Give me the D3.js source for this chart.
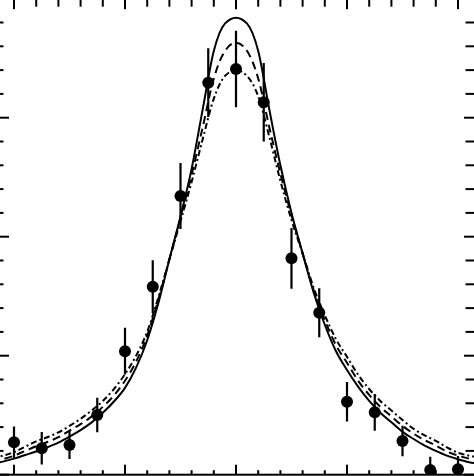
<!DOCTYPE html>
<html>
	<head>
		<meta charset="utf-8">
		<style type="text/css">
			body { margin: 0; background: #fff; }
			svg { display: block; }
		</style>
		<title>Peak fit</title>
	</head>
	<body>
		<script src="https://d3js.org/d3.v7.min.js"></script>
		<script>

/* measured points */
var pointX = [-2, -1.75, -1.5, -1.25, -1, -0.75, -0.5, -0.25, 0, 0.25, 0.5, 0.75, 1, 1.25, 1.5, 1.75, 2];
var pointY = [0.272, 0.222, 0.250, 0.502, 1.038, 1.580, 2.342, 3.294, 3.409, 3.129, 1.818, 1.361, 0.613, 0.524, 0.283, 0.039, 0.045];
var pointErr = [0.134, 0.137, 0.118, 0.145, 0.197, 0.223, 0.277, 0.289, 0.322, 0.330, 0.255, 0.206, 0.166, 0.155, 0.129, 0.112, 0.112];

var curveX = [-2.2, -2.1, -2.0, -1.9, -1.8, -1.7, -1.6, -1.5, -1.4, -1.3, -1.2, -1.1, -1.0, -0.9, -0.8, -0.7, -0.6, -0.5, -0.4, -0.3, -0.2, -0.1,
	0, 0.1, 0.2, 0.3, 0.4, 0.5, 0.6, 0.7, 0.8, 0.9, 1.0, 1.1, 1.2, 1.3, 1.4, 1.5, 1.6, 1.7, 1.8, 1.9, 2.0, 2.1, 2.2];
var solidY = [0.09, 0.11, 0.135, 0.165, 0.195, 0.23, 0.27, 0.32, 0.375, 0.44, 0.52, 0.615, 0.73, 0.90, 1.13, 1.44, 1.81, 2.17, 2.57, 3.07, 3.56, 3.79,
	3.84, 3.79, 3.56, 3.07, 2.60, 2.20, 1.86, 1.53, 1.26, 1.04, 0.88, 0.74, 0.62, 0.52, 0.44, 0.36, 0.30, 0.245, 0.20, 0.16, 0.13, 0.105, 0.09];
var dashedY = [0.11, 0.13, 0.16, 0.20, 0.24, 0.275, 0.315, 0.37, 0.425, 0.49, 0.57, 0.665, 0.79, 0.95, 1.17, 1.47, 1.81, 2.16, 2.52, 2.92, 3.33, 3.56,
	3.63, 3.56, 3.33, 2.92, 2.53, 2.18, 1.86, 1.55, 1.30, 1.09, 0.94, 0.79, 0.67, 0.57, 0.49, 0.41, 0.345, 0.29, 0.245, 0.195, 0.16, 0.135, 0.12];
var dashDotY = [0.14, 0.16, 0.19, 0.235, 0.28, 0.315, 0.355, 0.41, 0.47, 0.54, 0.62, 0.72, 0.845, 1.00, 1.20, 1.49, 1.81, 2.13, 2.46, 2.82, 3.16, 3.35,
	3.40, 3.35, 3.18, 2.84, 2.47, 2.14, 1.86, 1.57, 1.34, 1.14, 0.99, 0.84, 0.72, 0.62, 0.54, 0.46, 0.385, 0.33, 0.285, 0.23, 0.185, 0.16, 0.145];

/* graph parameters */

var totalWidth = 474;
var totalHeight = 476;

var frame = {left: -3, right: 476, top: -1.3, bottom: 474.7};

var scaleX = d3.scaleLinear()
	.domain([-2.1532, 2.1532])
	.range([frame.left, frame.right - 1]);
var scaleY = d3.scaleLinear()
	.domain([0, 4])
	.range([frame.bottom, frame.top]);

var svg = d3.select("body").append("svg")
	.attr("width", totalWidth)
	.attr("height", totalHeight);

svg.append("defs").append("clipPath")
	.attr("id", "plot-clip")
	.append("rect")
	.attr("x", frame.left)
	.attr("y", frame.top)
	.attr("width", frame.right - frame.left)
	.attr("height", frame.bottom - frame.top);

/* frame */

svg.append("rect")
	.attr("x", frame.left)
	.attr("y", frame.top)
	.attr("width", frame.right - frame.left)
	.attr("height", frame.bottom - frame.top)
	.style("fill", "none")
	.style("stroke", "#000")
	.style("stroke-width", 2);

/* ticks, all pointing inwards */

var xTicks = d3.range(-10, 11).map(function(i) { return i / 5; });
var yTicks = d3.range(0, 21).map(function(i) { return i / 5; });

function isMajor(v) { return Math.abs(v - Math.round(v)) < 1e-6; }

var ticks = svg.append("g").style("stroke", "#000").style("stroke-width", 2);

ticks.selectAll(".xb").data(xTicks).enter().append("line")
	.attr("x1", function(d) { return scaleX(d); })
	.attr("x2", function(d) { return scaleX(d); })
	.attr("y1", frame.bottom)
	.attr("y2", function(d) { return frame.bottom - (isMajor(d) ? 10 : 4.5); });

ticks.selectAll(".xt").data(xTicks).enter().append("line")
	.attr("x1", function(d) { return scaleX(d); })
	.attr("x2", function(d) { return scaleX(d); })
	.attr("y1", frame.top)
	.attr("y2", function(d) { return frame.top + (isMajor(d) ? 10.5 : 8); });

ticks.selectAll(".yl").data(yTicks).enter().append("line")
	.attr("y1", function(d) { return scaleY(d); })
	.attr("y2", function(d) { return scaleY(d); })
	.attr("x1", frame.left)
	.attr("x2", function(d) { return frame.left + (isMajor(d) ? 12 : 6.5); });

ticks.selectAll(".yr").data(yTicks).enter().append("line")
	.attr("y1", function(d) { return scaleY(d); })
	.attr("y2", function(d) { return scaleY(d); })
	.attr("x1", frame.right)
	.attr("x2", function(d) { return frame.right - (isMajor(d) ? 12 : 10.5); });

/* curves */

var line = d3.line()
	.x(function(d) { return scaleX(d[0]); })
	.y(function(d) { return scaleY(d[1]); })
	.curve(d3.curveMonotoneX);

var curves = [
	{values: solidY, dash: null},
	{values: dashedY, dash: "8,5"},
	{values: dashDotY, dash: "6,3,2,3"}
];

var g = svg.append("g").attr("clip-path", "url(#plot-clip)");

curves.forEach(function(c) {
	g.append("path")
		.attr("d", line(curveX.map(function(x, i) { return [x, c.values[i]]; })))
		.style("fill", "none")
		.style("stroke", "#000")
		.style("stroke-width", 2)
		.style("stroke-dasharray", c.dash);
});

/* data points with error bars */

var pts = pointX.map(function(x, i) { return {x: x, y: pointY[i], e: pointErr[i]}; });

g.selectAll(".err").data(pts).enter().append("line")
	.attr("x1", function(d) { return scaleX(d.x); })
	.attr("x2", function(d) { return scaleX(d.x); })
	.attr("y1", function(d) { return scaleY(d.y - d.e); })
	.attr("y2", function(d) { return scaleY(d.y + d.e); })
	.style("stroke", "#000")
	.style("stroke-width", 2.2);

g.selectAll(".pt").data(pts).enter().append("circle")
	.attr("cx", function(d) { return scaleX(d.x); })
	.attr("cy", function(d) { return scaleY(d.y); })
	.attr("r", 6)
	.style("fill", "#000");

		</script>
	</body>
</html>
